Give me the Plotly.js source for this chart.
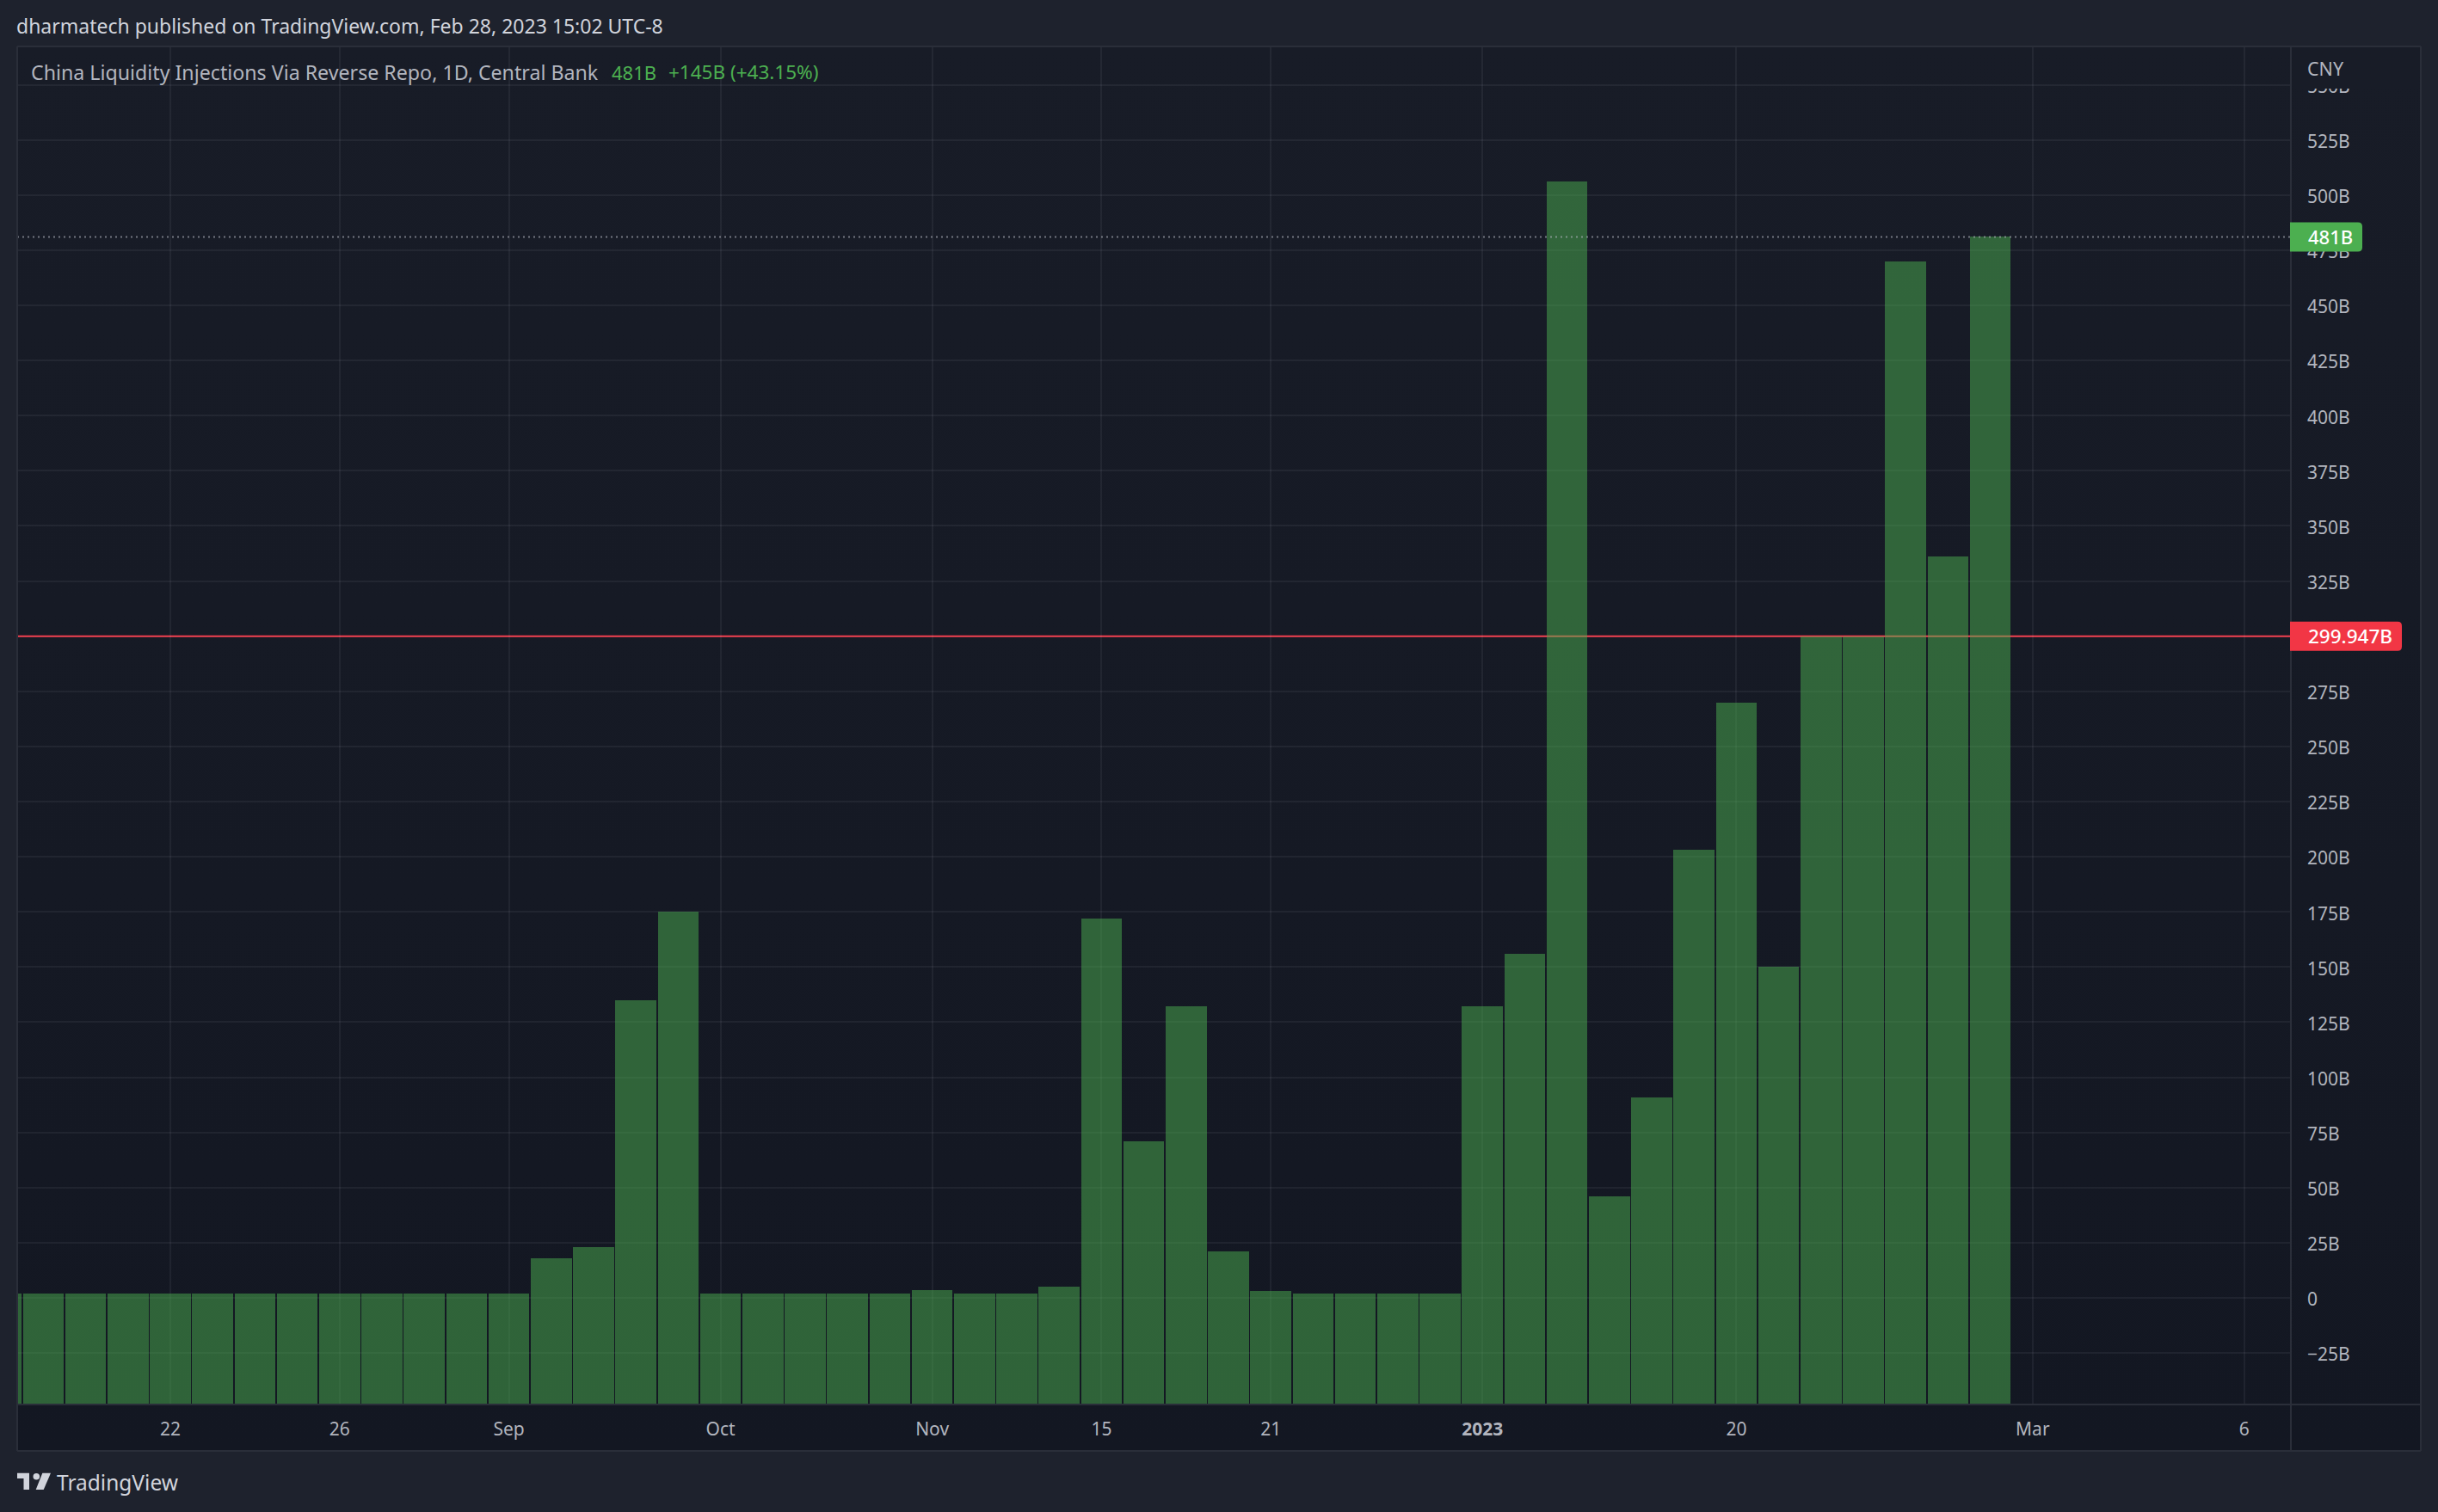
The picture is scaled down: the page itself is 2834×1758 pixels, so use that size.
<!DOCTYPE html>
<html>
<head>
<meta charset="utf-8">
<script src="https://cdn.plot.ly/plotly-3.0.1.min.js"></script>
<style>
html,body{margin:0;padding:0;background:#1e222d;width:2834px;height:1758px;overflow:hidden}
#pane{position:absolute;left:20px;top:54px;width:2794px;height:1633px;background:linear-gradient(180deg,#181c27 0%,#131722 100%)}
#chart{position:absolute;left:0;top:0;width:2834px;height:1758px}
</style>
</head>
<body>
<div id="pane"></div>
<div id="chart"></div>
<script>
// Data (billions of CNY, one bar per trading session)
const injections = [2,2,2,2,2,2,2,2,2,2,2,2,2,18,23,135,175,2,2,2,2,2,3.5,2,2,5,172,71,132,21,3,2,2,2,2,132,156,506,46,91,203,270,150,300,300,470,336,481];
const priceTickVals = [550,525,500,475,450,425,400,375,350,325,300,275,250,225,200,175,150,125,100,75,50,25,0,-25];
const priceTickText = ['550B','525B','500B','475B','450B','425B','400B','375B','350B','325B','300B','275B','250B','225B','200B','175B','150B','125B','100B','75B','50B','25B','0','\u221225B'];
const timeTickVals = [4,8,12,17,22,26,30,35,41,48,53];
const timeTickText = ['22','26','Sep','Oct','Nov','15','21','<b>2023</b>','20','Mar','6'];
const lastValue = 481;
const redLevel = 299.947;

const W=2834,H=1758,L=20,R=2663,T=54,B=1633,FULLR=2814,FULLB=1687;
const px = x => (x-L)/(R-L);
const py = y => (B-y)/(B-T);
const FONT = '"Noto Sans", sans-serif';
const floorY = -60;
const TXT='#b2b5be', GRID='rgba(240,243,250,0.06)', EDGE='#2a2e39', GREEN='#4caf50', RED='#f23645';

function hline(y,x0,x1){return {type:'line',xref:'paper',yref:'paper',x0:px(x0),x1:px(x1),y0:py(y),y1:py(y),line:{color:EDGE,width:2},layer:'above'};}
function vline(x,y0,y1){return {type:'line',xref:'paper',yref:'paper',x0:px(x),x1:px(x),y0:py(y0),y1:py(y1),line:{color:EDGE,width:2},layer:'above'};}
function tag(value,w,color){
  const h=17,r=5;
  return {type:'path',xref:'paper',yref:'y',xsizemode:'pixel',ysizemode:'pixel',xanchor:px(R-1),yanchor:value,
    path:`M0,${h} L${w-r},${h} Q${w},${h} ${w},${h-r} L${w},${r-h} Q${w},${-h} ${w-r},${-h} L0,${-h} Z`,
    fillcolor:color,line:{width:0},layer:'above'};
}
function poly(points){
  return 'M'+points.map(p=>px(p[0])+','+py(p[1])).join(' L')+' Z';
}
function logoCircle(cx,cy,r){
  return {type:'circle',xref:'paper',yref:'paper',x0:px(cx-r),x1:px(cx+r),y0:py(cy-r),y1:py(cy+r),fillcolor:'#d1d4dc',line:{width:0},layer:'above'};
}
const shapes=[
  // header mask over the clipped top price label
  {type:'rect',xref:'paper',yref:'paper',x0:px(R+2),x1:px(FULLR-2),y0:py(T+2),y1:py(103),fillcolor:'#181c27',line:{width:0},layer:'above'},
  // red horizontal level sits beneath the translucent bars
  {type:'line',xref:'paper',yref:'y',x0:0,x1:1,y0:redLevel,y1:redLevel,line:{color:RED,width:2},layer:'below'},
  // last value dotted line
  {type:'line',xref:'paper',yref:'y',x0:0,x1:1,y0:lastValue,y1:lastValue,line:{color:'rgba(178,181,190,0.6)',width:2,dash:'2px,4px'},layer:'above'},
  hline(T,L,FULLR),hline(B,L,FULLR),hline(FULLB,L,FULLR),
  vline(L,T,FULLB),vline(R,T,FULLB),vline(FULLR,T,FULLB),
  tag(lastValue,84,GREEN),tag(redLevel,130,RED),
  {type:'path',xref:'paper',yref:'paper',path:poly([[20,1712.7],[34,1712.7],[34,1732],[27.5,1732],[27.5,1719],[20,1719]]),fillcolor:'#d1d4dc',line:{width:0},layer:'above'},
  logoCircle(42.3,1716.7,3.8),
  {type:'path',xref:'paper',yref:'paper',path:poly([[49.3,1712.7],[59,1712.7],[50.7,1732],[41.7,1732]]),fillcolor:'#d1d4dc',line:{width:0},layer:'above'}
];
function note(text,x,y,size,color,weight){
  return {text:text,xref:'paper',yref:'paper',x:px(x),y:py(y),xanchor:'left',yanchor:'middle',showarrow:false,
    font:{family:FONT,size:size,color:color,weight:weight||400},borderpad:0,borderwidth:0};
}
const annotations=[
  note('dharmatech published on TradingView.com, Feb 28, 2023 15:02 UTC-8',19,30,23,'#d1d4dc'),
  note('China Liquidity Injections Via Reverse Repo, 1D, Central Bank',36,84,23.2,TXT),
  note('481B',711,84,22,GREEN),
  note('+145B (+43.15%)',777,84,22.5,GREEN),
  note('CNY',2682,80,21.5,TXT),
  note('TradingView',66,1723,24.5,'#d1d4dc'),
  {text:'481B',xref:'paper',yref:'y',x:px(2682),y:lastValue,xanchor:'left',yanchor:'middle',showarrow:false,borderpad:0,font:{family:FONT,size:22,color:'#ffffff',weight:500}},
  {text:'299.947B',xref:'paper',yref:'y',x:px(2682),y:redLevel,xanchor:'left',yanchor:'middle',showarrow:false,borderpad:0,font:{family:FONT,size:22.5,color:'#ffffff',weight:500}}
];
const data=[{
  type:'bar',
  x:injections.map((_,i)=>i),
  y:injections.map(v=>v-floorY),
  base:floorY,
  width:0.965,
  marker:{color:'rgba(76,175,80,0.5)',line:{width:0}},
  hoverinfo:'skip'
}];
const layout={
  width:W,height:H,autosize:false,
  margin:{l:L,r:W-R,t:T,b:H-B,pad:0},
  paper_bgcolor:'rgba(0,0,0,0)',plot_bgcolor:'rgba(0,0,0,0)',
  showlegend:false,bargap:0,
  font:{family:FONT,size:21,color:TXT},
  xaxis:{type:'linear',range:[(L-1.2)/49.2,(R-1.2)/49.2],tickmode:'array',tickvals:timeTickVals,ticktext:timeTickText,
    showgrid:true,gridcolor:GRID,gridwidth:2,zeroline:false,showline:false,ticks:'',ticklabelstandoff:14,
    tickfont:{family:FONT,size:21,color:TXT},fixedrange:true},
  yaxis:{type:'linear',side:'right',range:[(1509-B)/2.5645,(1509-T)/2.5645],tickmode:'array',tickvals:priceTickVals,ticktext:priceTickText,
    showgrid:true,gridcolor:GRID,gridwidth:2,zeroline:false,showline:false,ticks:'',ticklabelstandoff:18,ticklabelshift:2,
    tickfont:{family:FONT,size:21,color:TXT},fixedrange:true},
  shapes:shapes,
  annotations:annotations
};
Plotly.newPlot('chart',data,layout,{displayModeBar:false,staticPlot:true});
</script>
</body>
</html>
